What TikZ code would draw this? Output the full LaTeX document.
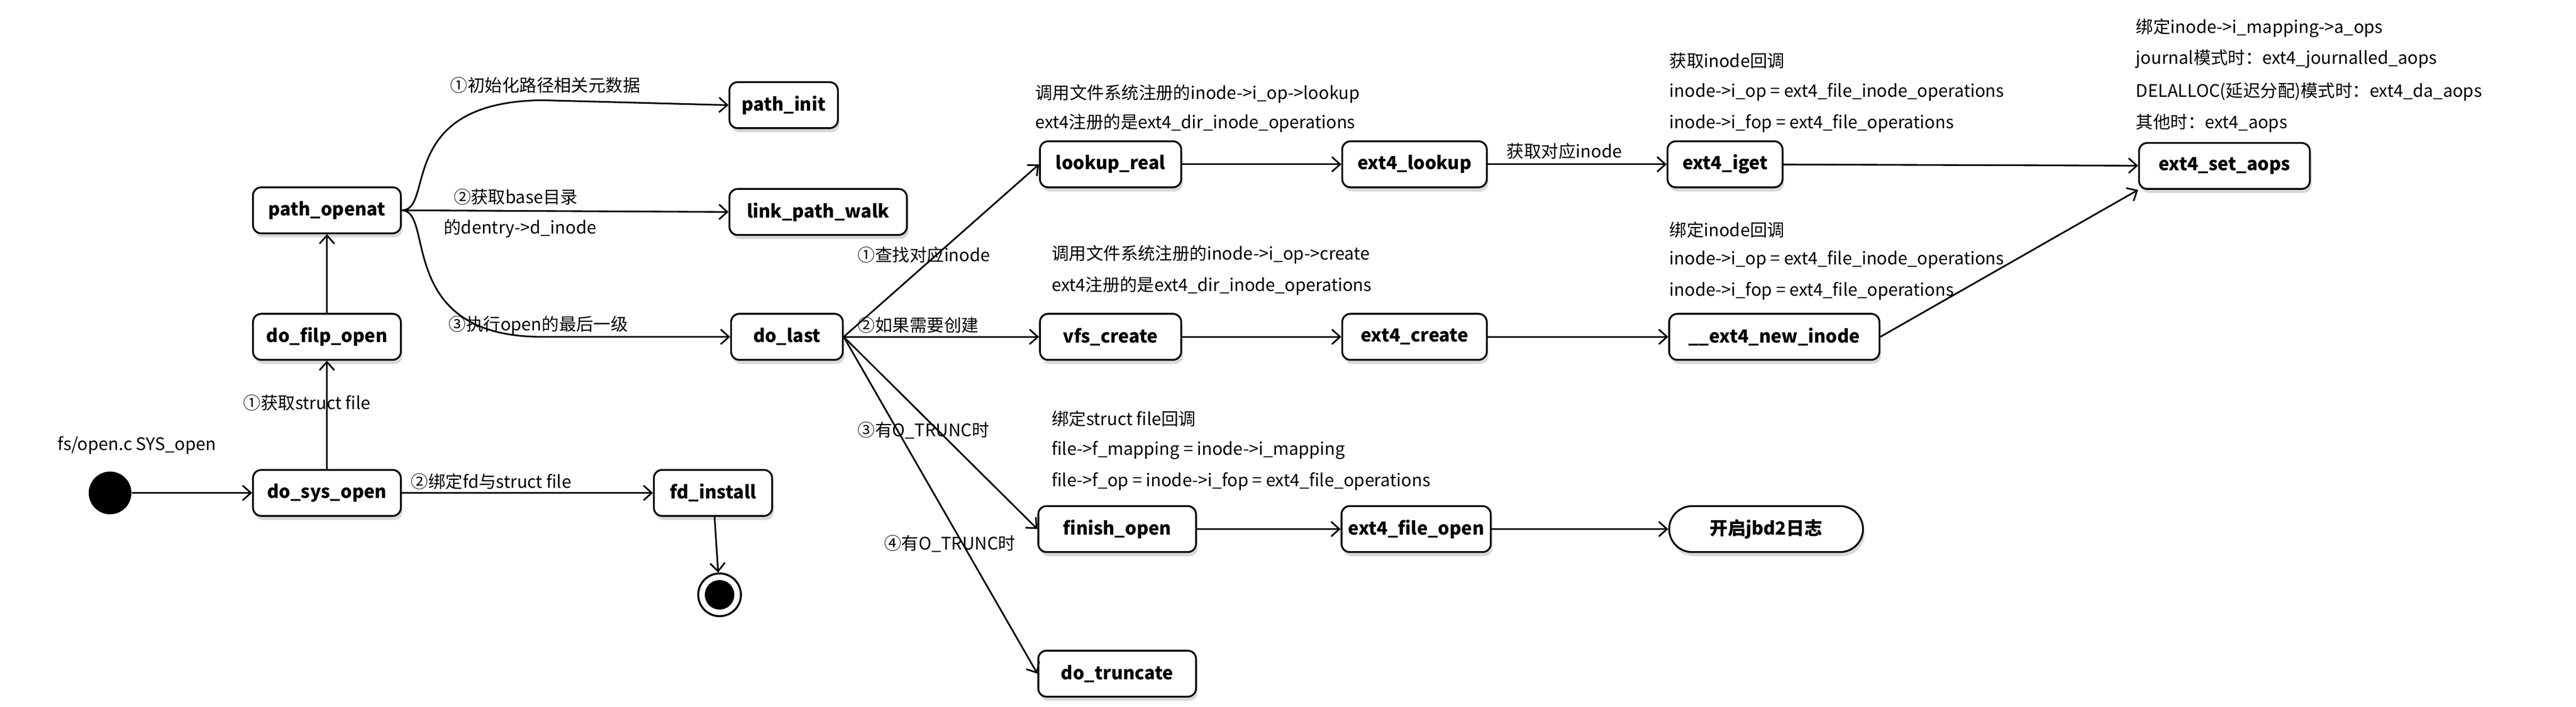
\documentclass[tikz,border=0pt]{standalone}
\usepackage{fontspec}
\setmainfont{Noto Sans CJK SC}
\usetikzlibrary{arrows.meta,shadows}
\begin{document}
\begin{tikzpicture}[x=1pt,y=-1pt,
  box/.style={draw,line width=1.1pt,rounded corners=5pt,fill=white,minimum height=28pt,inner xsep=4pt,font=\fontsize{11}{12}\selectfont\bfseries,drop shadow={shadow xshift=1pt,shadow yshift=-2.5pt,fill=black!30}},
  arr/.style={-{Straight Barb[length=5pt,width=9pt]},line width=1pt},
  lab/.style={font=\fontsize{10.5}{12}\selectfont,inner sep=0pt,anchor=west},
  txt/.style={font=\fontsize{10.5}{12}\selectfont,inner sep=0pt,anchor=west}]
\useasboundingbox (0,0) rectangle (1568,430);
\node[circle,fill=black,minimum size=26pt,inner sep=0] (s) at (67,300) {};
\node[lab] (sl) at (35,271) {fs/open.c SYS\_open};
\node[box,minimum width=90pt] (dso) at (199,300) {do\_sys\_open};
\node[box,minimum width=90pt] (dfo) at (199,205) {do\_filp\_open};
\node[box,minimum width=90pt] (po) at (199,128) {path\_openat};
\node[box,minimum width=66pt] (pi) at (477,64) {path\_init};
\node[box,minimum width=108pt] (lpw) at (498,129) {link\_path\_walk};
\node[box,minimum width=68pt] (dl) at (479,205) {do\_last};
\node[box,minimum width=72pt] (fi) at (434,300) {fd\_install};
\node[circle,draw,line width=1.2pt,fill=white,minimum size=26pt,inner sep=0] (e) at (438,362) {};
\node[circle,fill=black,minimum size=18pt,inner sep=0] (e2) at (438,362) {};
\node[box,minimum width=86pt] (lr) at (676,100) {lookup\_real};
\node[box,minimum width=88pt] (el) at (861,100) {ext4\_lookup};
\node[box,minimum width=70pt] (ei) at (1050,100) {ext4\_iget};
\node[box,minimum width=104pt] (sa) at (1354,101) {ext4\_set\_aops};
\node[box,minimum width=86pt] (vc) at (676,205) {vfs\_create};
\node[box,minimum width=88pt] (ec) at (861,205) {ext4\_create};
\node[box,minimum width=128pt] (ni) at (1080,205) {\_\_ext4\_new\_inode};
\node[box,minimum width=96pt] (fo) at (680,322) {finish\_open};
\node[box,minimum width=88pt] (efo) at (862,322) {ext4\_file\_open};
\node[box,minimum width=118pt,rounded corners=14pt] (jb) at (1075,322) {开启jbd2日志};
\node[box,minimum width=96pt] (dt) at (680,410) {do\_truncate};

\draw[arr] (s) -- (dso);
\draw[arr] (dso) -- (dfo);
\draw[arr] (dfo) -- (po);
\draw[arr] (dso) -- (fi);
\draw[arr] (fi) -- (e);
\draw[arr] (po.east) .. controls (265,128) and (240,62) .. (330,61) -- (pi.west);
\draw[arr] (po.east) -- (lpw.west);
\draw[arr] (po.east) .. controls (265,128) and (240,205) .. (330,205) -- (dl.west);
\draw[arr] (dl.east) -- (lr.west);
\draw[arr] (dl.east) -- (vc.west);
\draw[arr] (dl.east) -- (fo.west);
\draw[arr] (dl.east) -- (dt.west);
\draw[arr] (lr) -- (el);
\draw[arr] (el) -- (ei);
\draw[arr] (ei) -- (sa);
\draw[arr] (vc) -- (ec);
\draw[arr] (ec) -- (ni);
\draw[arr] (ni.east) -- (sa.south west);
\draw[arr] (fo) -- (efo);
\draw[arr] (efo) -- (jb);

\node[lab] (l1) at (148,245) {①获取struct file};
\node[lab] (l2) at (250,293) {②绑定fd与struct file};
\node[lab] (l3) at (274,52) {①初始化路径相关元数据};
\node[lab] (l4) at (276,120) {②获取base目录};
\node[lab] (l5) at (270,139) {的dentry->d\_inode};
\node[lab] (l6) at (273,198) {③执行open的最后一级};
\node[lab] (l7) at (522,155) {①查找对应inode};
\node[lab] (l8) at (522,198) {②如果需要创建};
\node[lab] (l9) at (522,262) {③有O\_TRUNC时};
\node[lab] (l10) at (538,331) {④有O\_TRUNC时};
\node[lab] (l11) at (917,92) {获取对应inode};

\node[txt] (t1) at (630,57) {调用文件系统注册的inode->i\_op->lookup};
\node[txt] (t2) at (630,75) {ext4注册的是ext4\_dir\_inode\_operations};
\node[txt] (t3) at (1016,37) {获取inode回调};
\node[txt] (t4) at (1016,56) {inode->i\_op = ext4\_file\_inode\_operations};
\node[txt] (t5) at (1016,75) {inode->i\_fop = ext4\_file\_operations};
\node[txt] (t6) at (1300,17) {绑定inode->i\_mapping->a\_ops};
\node[txt] (t7) at (1300,36) {journal模式时：ext4\_journalled\_aops};
\node[txt] (t8) at (1300,56) {DELALLOC(延迟分配)模式时：ext4\_da\_aops};
\node[txt] (t9) at (1300,75) {其他时：ext4\_aops};
\node[txt] (t10) at (640,155) {调用文件系统注册的inode->i\_op->create};
\node[txt] (t11) at (640,174) {ext4注册的是ext4\_dir\_inode\_operations};
\node[txt] (t12) at (1016,140) {绑定inode回调};
\node[txt] (t13) at (1016,158) {inode->i\_op = ext4\_file\_inode\_operations};
\node[txt] (t14) at (1016,177) {inode->i\_fop = ext4\_file\_operations};
\node[txt] (t15) at (640,255) {绑定struct file回调};
\node[txt] (t16) at (640,274) {file->f\_mapping = inode->i\_mapping};
\node[txt] (t17) at (640,293) {file->f\_op = inode->i\_fop = ext4\_file\_operations};
\end{tikzpicture}
\end{document}
